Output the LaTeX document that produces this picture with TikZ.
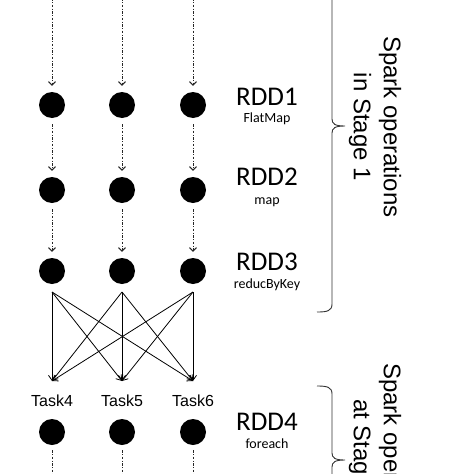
\documentclass[tikz,border=0pt]{standalone}
\usepackage{fontspec}
\setmainfont{Liberation Sans}
\newfontfamily\calfont{Carlito}
\usetikzlibrary{arrows.meta}
\begin{document}
\begin{tikzpicture}[x=1pt,y=-1pt,
  dot/.style={circle,fill=black,draw=none,minimum size=26pt,inner sep=0pt},
  dpat/.style={line width=1pt,draw=black!85,dash pattern=on 2.5pt off 1.5pt on 1pt off 1.5pt},
  dflow/.style={dpat,-{Straight Barb[length=3.5pt,width=7pt,line width=1pt]}},
  xflow/.style={line width=0.8pt,-{Straight Barb[length=5pt,width=7pt]}},
  rddlab/.style={font=\calfont\fontsize{27}{30}\selectfont,inner sep=0pt},
  oplab/.style={font=\calfont\fontsize{14}{16}\selectfont,inner sep=0pt},
  tasklab/.style={font=\fontsize{16}{18}\selectfont,inner sep=0pt},
  stagelab/.style={font=\fontsize{24}{30}\selectfont,align=center,rotate=-90,inner sep=0pt},
  bracestyle/.style={line width=0.9pt,draw=black!80}]
\useasboundingbox (0,0) rectangle (474,474);
% circles
\foreach \c/\x in {1/52,2/122,3/193}{
  \node[dot] (ra\c) at (\x,105) {};
  \node[dot] (rb\c) at (\x,190) {};
  \node[dot] (rc\c) at (\x,271) {};
  \node[dot] (rd\c) at (\x,432) {};
  \coordinate (t\c) at (\x,-2);
  \coordinate (b\c) at (\x,476);
  \coordinate (s\c) at (\x,292);
  \coordinate (e\c) at (\x,381);
}
% dashed arrows
\foreach \c in {1,2,3}{
  \draw[dflow,shorten >=6pt] (t\c) -- (ra\c);
  \draw[dflow,shorten <=6pt,shorten >=6pt] (ra\c) -- (rb\c);
  \draw[dflow,shorten <=6pt,shorten >=6pt] (rb\c) -- (rc\c);
  \draw[dpat,shorten <=5pt] (rd\c) -- (b\c);
}
% shuffle arrows
\foreach \i in {1,2,3}{
  \foreach \j in {1,2,3}{
    \draw[xflow] (s\i) -- (e\j);
  }
}
% task labels
\node[tasklab] (task4) at (52,401) {Task4};
\node[tasklab] (task5) at (122,401) {Task5};
\node[tasklab] (task6) at (193,401) {Task6};
% RDD labels
\node[rddlab] (rdd1) at (267,97) {RDD1};
\node[oplab] (op1) at (267,119) {FlatMap};
\node[rddlab] (rdd2) at (267,177) {RDD2};
\node[oplab] (op2) at (267,202) {map};
\node[rddlab] (rdd3) at (267,262) {RDD3};
\node[oplab] (op3) at (267,285) {reducByKey};
\node[rddlab] (rdd4) at (267,422) {RDD4};
\node[oplab] (op4) at (267,444) {foreach};
% braces
\draw[bracestyle] (317,312) .. controls (327,312) and (332,311) .. (332,304)
  -- (332,133) .. controls (332,128) and (335,126) .. (345,126)
  .. controls (335,126) and (332,124) .. (332,119)
  -- (332,-52) .. controls (332,-59) and (327,-60) .. (317,-60);
\draw[bracestyle] (317,386) .. controls (327,386) and (332,387) .. (332,394)
  -- (332,453) .. controls (332,458) and (335,460) .. (345,460)
  .. controls (335,460) and (332,462) .. (332,467)
  -- (332,527) .. controls (332,533) and (327,534) .. (317,534);
% stage labels
\node[stagelab] (stage1) at (375,127) {Spark operations\\in Stage 1};
\node[stagelab] (stage2) at (375,454) {Spark operations\\at Stage 2};
\end{tikzpicture}
\end{document}
